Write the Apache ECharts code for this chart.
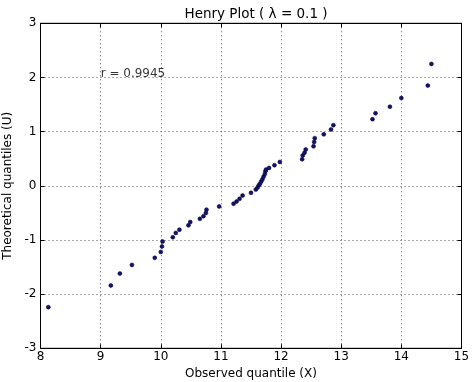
<!DOCTYPE html>
<html><head><meta charset="utf-8">
<script src="https://cdn.jsdelivr.net/npm/echarts@6/dist/echarts.min.js"></script>
<style>html,body{margin:0;padding:0;background:#fff}#c{width:474px;height:382px}</style>
</head><body><div id="c"></div>
<script>
const observed = [8.13, 9.17, 9.32, 9.52, 9.90, 10.00, 10.02, 10.03, 10.20, 10.25, 10.31, 10.46, 10.49, 10.65, 10.71, 10.75, 10.76, 10.97, 11.21, 11.26, 11.31, 11.36, 11.50, 11.58, 11.61, 11.63, 11.65, 11.67, 11.69, 11.71, 11.73, 11.74, 11.75, 11.80, 11.89, 11.98, 12.35, 12.36, 12.39, 12.41, 12.54, 12.55, 12.56, 12.71, 12.83, 12.87, 13.52, 13.57, 13.81, 14.00, 14.44, 14.50];
const theoretical = [-2.24, -1.84, -1.62, -1.46, -1.33, -1.22, -1.12, -1.03, -0.95, -0.87, -0.81, -0.73, -0.67, -0.61, -0.56, -0.50, -0.44, -0.38, -0.33, -0.29, -0.24, -0.18, -0.13, -0.07, -0.03, 0.01, 0.04, 0.08, 0.12, 0.17, 0.22, 0.27, 0.30, 0.33, 0.38, 0.44, 0.49, 0.56, 0.61, 0.67, 0.73, 0.81, 0.88, 0.95, 1.04, 1.12, 1.23, 1.34, 1.46, 1.62, 1.85, 2.25];
const titleText = 'Henry Plot ( λ = 0.1 )';
const xName = 'Observed quantile (X)';
const yName = 'Theoretical quantiles (U)';
const annotation = 'r = 0.9945';
const annotationPos = [9, 2];
const xRange = [8, 15];
const yRange = [-3, 3];

const FONT = 'DejaVu Sans';
const chart = echarts.init(document.getElementById('c'), null, {renderer: 'canvas'});
const points = observed.map((x, i) => [x, theoretical[i]]);
const gridLine = {show: true, lineStyle: {color: '#555', type: [1, 3], width: 1}};
const tick = {show: true, inside: true, length: 4, lineStyle: {color: '#000'}};
const axLine = {show: true, onZero: false, lineStyle: {color: '#000'}};
chart.setOption({
  animation: false,
  title: {text: titleText, left: 251, top: 2, textAlign: 'center',
    textStyle: {fontFamily: FONT, fontSize: 13.5, fontWeight: 'normal', color: '#000'}},
  grid: {left: 40.5, right: 12.5, top: 23.3, bottom: 33.7, containLabel: false, outerBoundsMode: 'none',
    show: true, borderColor: '#000', borderWidth: 1, backgroundColor: 'transparent'},
  xAxis: [
    {type: 'value', min: xRange[0], max: xRange[1], interval: 1, position: 'bottom',
     name: xName, nameLocation: 'middle', nameGap: 18,
     nameTextStyle: {fontFamily: FONT, fontSize: 12, color: '#000'},
     axisLine: axLine, axisTick: tick,
     axisLabel: {fontFamily: FONT, fontSize: 12, color: '#000', margin: 3},
     splitLine: gridLine},
    {type: 'value', min: xRange[0], max: xRange[1], interval: 1, position: 'top',
     axisLine: axLine, axisTick: tick,
     axisLabel: {show: false}, splitLine: {show: false}}
  ],
  yAxis: [
    {type: 'value', min: yRange[0], max: yRange[1], interval: 1, position: 'left',
     name: yName, nameLocation: 'middle', nameGap: 23, nameRotate: 90,
     nameTextStyle: {fontFamily: FONT, fontSize: 12, color: '#000'},
     axisLine: axLine, axisTick: tick,
     axisLabel: {fontFamily: FONT, fontSize: 12, color: '#000', margin: 4},
     splitLine: gridLine},
    {type: 'value', min: yRange[0], max: yRange[1], interval: 1, position: 'right',
     axisLine: axLine, axisTick: tick,
     axisLabel: {show: false}, splitLine: {show: false}}
  ],
  series: [
    {type: 'scatter', data: points, symbol: 'circle', symbolSize: 4,
     itemStyle: {color: '#13136e', borderColor: '#000030', borderWidth: 0.5, opacity: 1}},
    {type: 'scatter', data: [annotationPos], symbolSize: 0, silent: true,
     label: {show: true, formatter: annotation, position: [0, -4], align: 'left', verticalAlign: 'middle',
       fontFamily: FONT, fontSize: 12, color: '#000'}}
  ]
});
</script></body></html>
